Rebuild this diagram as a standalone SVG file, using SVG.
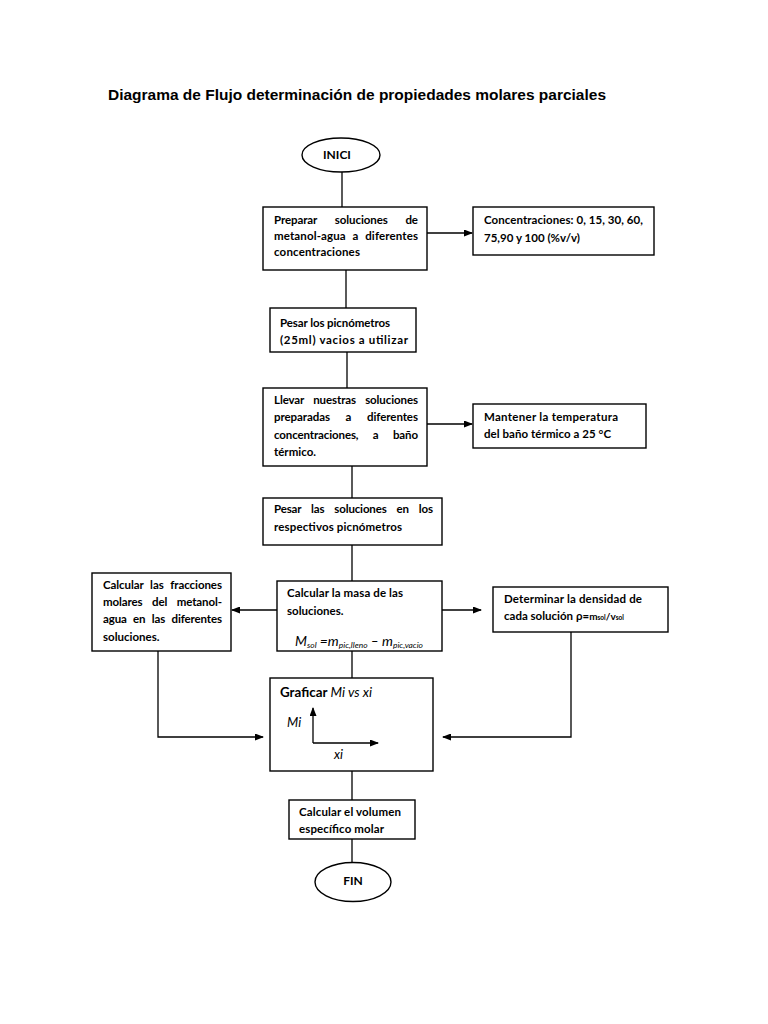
<svg xmlns="http://www.w3.org/2000/svg" width="768" height="1024" viewBox="0 0 768 1024">
<style>
.bx{fill:#fff;stroke:#000;stroke-width:1.4}
.ln{fill:none;stroke:#000;stroke-width:1.3}
.t{font-family:Lato,"Open Sans","Noto Sans",sans-serif;font-weight:bold;font-size:11.5px;fill:#000}
.it{font-family:Lato,"Open Sans","Noto Sans",sans-serif;font-style:italic;font-weight:normal;fill:#000}
.ttl{font-family:"Liberation Sans",Arial,sans-serif;font-weight:bold;font-size:15px;fill:#000}
</style>
<defs>
<marker id="ah" markerUnits="userSpaceOnUse" markerWidth="9" markerHeight="7" refX="8" refY="3.5" orient="auto">
<path d="M0,0 L9,3.5 L0,7 z" fill="#000"/>
</marker>
</defs>
<rect width="768" height="1024" fill="#fff"/>
<text class="ttl" x="108" y="100" textLength="498" lengthAdjust="spacingAndGlyphs">Diagrama de Flujo determinación de propiedades molares parciales</text>

<g id="connectors">
<line class="ln" x1="342" y1="172" x2="342" y2="207"/>
<line class="ln" x1="346" y1="270" x2="346" y2="308"/>
<line class="ln" x1="347" y1="352" x2="347" y2="388"/>
<line class="ln" x1="427" y1="233" x2="472" y2="233" marker-end="url(#ah)"/>
<line class="ln" x1="427" y1="424" x2="472" y2="424" marker-end="url(#ah)"/>
<line class="ln" x1="352" y1="466" x2="352" y2="498"/>
<line class="ln" x1="352" y1="545" x2="352" y2="581"/>
<line class="ln" x1="277" y1="610" x2="232" y2="610" marker-end="url(#ah)"/>
<line class="ln" x1="442" y1="610" x2="481" y2="610" marker-end="url(#ah)"/>
<line class="ln" x1="352" y1="651" x2="352" y2="678"/>
<polyline class="ln" points="158,651 158,737 263,737" marker-end="url(#ah)"/>
<polyline class="ln" points="571,632 571,737 443,737" marker-end="url(#ah)"/>
<line class="ln" x1="352" y1="771" x2="352" y2="800"/>
<line class="ln" x1="352" y1="839" x2="352" y2="863"/>
</g>

<g id="inici">
<ellipse class="bx" cx="341" cy="155" rx="39" ry="17"/>
<text class="t" x="337" y="159" style="font-size:12px" text-anchor="middle">INICI</text>
</g>

<g id="preparar">
<rect class="bx" x="263" y="207" width="164" height="63"/>
<text class="t" x="274" y="224" style="word-spacing:15px" textLength="144" lengthAdjust="spacing">Preparar soluciones de</text>
<text class="t" x="274" y="240" style="word-spacing:3.8px" textLength="144" lengthAdjust="spacing">metanol-agua a diferentes</text>
<text class="t" x="274" y="256" textLength="86" lengthAdjust="spacing">concentraciones</text>
</g>

<g id="concentraciones">
<rect class="bx" x="473" y="207" width="181" height="48"/>
<text class="t" x="484" y="224" textLength="159" lengthAdjust="spacing">Concentraciones: 0, 15, 30, 60,</text>
<text class="t" x="484" y="242" textLength="96" lengthAdjust="spacing">75,90 y 100 (%v/v)</text>
</g>

<g id="pesar-picnometros">
<rect class="bx" x="270" y="308" width="146" height="44"/>
<text class="t" x="280" y="327" textLength="110" lengthAdjust="spacing">Pesar los picnómetros</text>
<text class="t" x="280" y="344" textLength="128" lengthAdjust="spacing">(25ml) vacios a utilizar</text>
</g>

<g id="llevar">
<rect class="bx" x="263" y="388" width="164" height="78"/>
<text class="t" x="274" y="404" style="word-spacing:6.5px" textLength="144" lengthAdjust="spacing">Llevar nuestras soluciones</text>
<text class="t" x="274" y="421" style="word-spacing:13px" textLength="144" lengthAdjust="spacing">preparadas a diferentes</text>
<text class="t" x="274" y="439" style="word-spacing:11.7px" textLength="144" lengthAdjust="spacing">concentraciones, a baño</text>
<text class="t" x="274" y="456">térmico.</text>
</g>

<g id="mantener">
<rect class="bx" x="473" y="404" width="173" height="44"/>
<text class="t" x="484" y="421" textLength="134" lengthAdjust="spacing">Mantener la temperatura</text>
<text class="t" x="484" y="438" textLength="127" lengthAdjust="spacing">del baño térmico a 25 °C</text>
</g>

<g id="pesar-soluciones">
<rect class="bx" x="263" y="498" width="179" height="47"/>
<text class="t" x="274" y="513" style="word-spacing:7.3px" textLength="159" lengthAdjust="spacing">Pesar las soluciones en los</text>
<text class="t" x="274" y="531" textLength="128" lengthAdjust="spacing">respectivos picnómetros</text>
</g>

<g id="calcular-masa">
<rect class="bx" x="277" y="581" width="165" height="70"/>
<text class="t" x="287" y="597" textLength="116" lengthAdjust="spacing">Calcular la masa de las</text>
<text class="t" x="287" y="615">soluciones.</text>
<text class="it" x="295" y="646" textLength="128" lengthAdjust="spacingAndGlyphs"><tspan font-size="14">M</tspan><tspan font-size="8.5" dy="2">sol</tspan><tspan font-size="14" dy="-2"> =m</tspan><tspan font-size="8.5" dy="2">pic,lleno</tspan><tspan font-size="14" dy="-2"> – m</tspan><tspan font-size="8.5" dy="2">pic,vacio</tspan></text>
</g>

<g id="fracciones">
<rect class="bx" x="92" y="573" width="139" height="78"/>
<text class="t" x="103" y="589" style="word-spacing:3.9px" textLength="119" lengthAdjust="spacing">Calcular las fracciones</text>
<text class="t" x="103" y="606" style="word-spacing:6.8px" textLength="119" lengthAdjust="spacing">molares del metanol-</text>
<text class="t" x="103" y="623" style="word-spacing:3.7px" textLength="119" lengthAdjust="spacing">agua en las diferentes</text>
<text class="t" x="103" y="641">soluciones.</text>
</g>

<g id="densidad">
<rect class="bx" x="493" y="587" width="175" height="45"/>
<text class="t" x="504" y="603" textLength="138" lengthAdjust="spacing">Determinar la densidad de</text>
<text class="t" x="504" y="620">cada solución ρ=<tspan font-size="10">m</tspan><tspan font-size="6.5">sol</tspan><tspan font-size="10">/v</tspan><tspan font-size="6.5">sol</tspan></text>
</g>

<g id="graficar">
<rect class="bx" x="270" y="678" width="163" height="93"/>
<text x="280" y="697" textLength="92" lengthAdjust="spacingAndGlyphs"><tspan class="t" style="font-size:13px">Graficar</tspan><tspan class="it" style="font-size:13px"> Mi vs xi</tspan></text>
<line class="ln" x1="313" y1="743" x2="313" y2="708" marker-end="url(#ah)"/>
<line class="ln" x1="313" y1="743" x2="378" y2="743" marker-end="url(#ah)"/>
<text class="it" x="287" y="727" style="font-size:13px">Mi</text>
<text class="it" x="334" y="759" style="font-size:13px">xi</text>
</g>

<g id="volumen">
<rect class="bx" x="289" y="800" width="126" height="39"/>
<text class="t" x="299" y="816" textLength="102" lengthAdjust="spacing">Calcular el volumen</text>
<text class="t" x="299" y="833" textLength="85" lengthAdjust="spacing">específico molar</text>
</g>

<g id="fin">
<ellipse class="bx" cx="353" cy="882" rx="38" ry="19.5"/>
<text class="t" x="353" y="885" style="font-size:12px" text-anchor="middle">FIN</text>
</g>
</svg>
